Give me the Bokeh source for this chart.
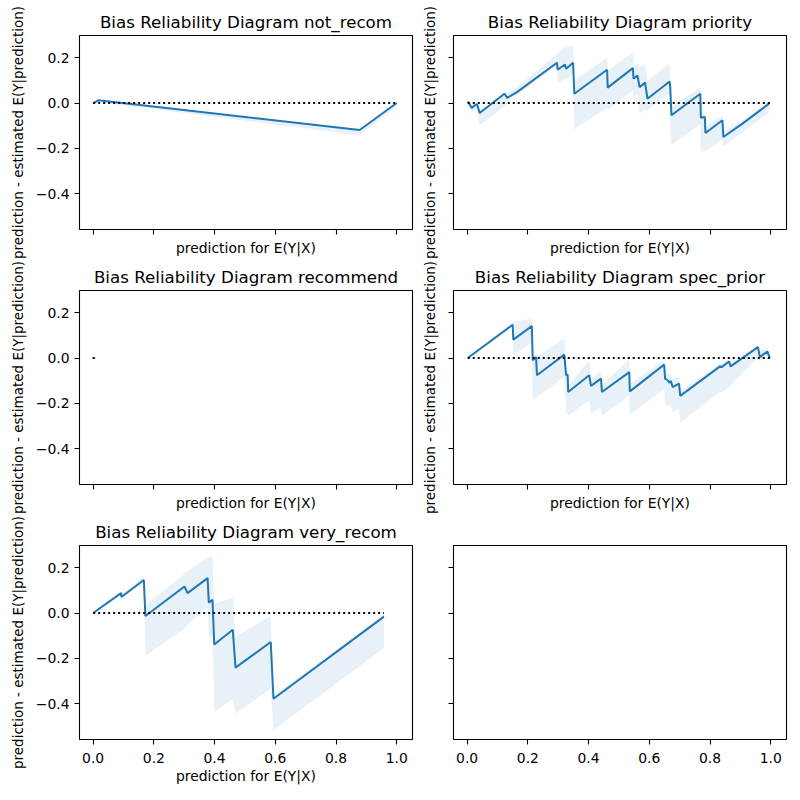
from bokeh.plotting import figure
from bokeh.models import Range1d, FixedTicker
from bokeh.layouts import column, row
from bokeh.embed import file_html
from bokeh.resources import INLINE

FONT = "DejaVu Sans"
BLUE = "#1f77b4"

# ---------------- data ----------------
not_recom_x = [0.0, 0.017, 0.878, 1.0]
not_recom_y = [0.0, 0.012, -0.119, 0.0]
not_recom_lo = [0.0, 0.004, -0.142, -0.015]
not_recom_hi = [0.0, 0.014, -0.117, 0.0]

priority_x = [0.002, 0.010, 0.015, 0.026, 0.033, 0.041, 0.123, 0.132, 0.164, 0.296,
              0.298, 0.322, 0.326, 0.349, 0.353, 0.461, 0.463, 0.546, 0.548, 0.561,
              0.568, 0.586, 0.594, 0.667, 0.669, 0.673, 0.768, 0.770, 0.783, 0.785,
              0.841, 0.844, 0.907, 0.997]
priority_y = [0.007, -0.010, -0.022, -0.009, -0.006, -0.044, 0.041, 0.023, 0.048, 0.178,
              0.147, 0.170, 0.151, 0.178, 0.041, 0.147, 0.068, 0.154, 0.107, 0.122,
              0.070, 0.090, 0.019, 0.095, 0.070, -0.054, 0.041, -0.065, -0.062, -0.132,
              -0.076, -0.150, -0.091, 0.000]
priority_lo = [0.004, -0.025, -0.040, -0.032, -0.029, -0.098, -0.015, 0.009, 0.034, 0.166,
               0.085, 0.107, 0.100, 0.129, -0.117, -0.021, -0.032, 0.056, 0.026, 0.041,
               -0.047, -0.029, -0.032, 0.041, -0.091, -0.186, -0.091, -0.216, -0.211, -0.216,
               -0.157, -0.194, -0.128, -0.040]
priority_hi = [0.010, -0.003, -0.015, 0.000, 0.003, -0.037, 0.048, 0.041, 0.070, 0.217,
               0.217, 0.247, 0.247, 0.254, 0.100, 0.200, 0.144, 0.225, 0.159, 0.173,
               0.159, 0.173, 0.100, 0.176, 0.100, -0.018, 0.070, -0.047, -0.047, -0.106,
               -0.054, -0.128, -0.076, 0.009]

recommend_x = [0.0, 0.004]
recommend_y = [0.0, 0.0]
recommend_lo = [0.0, 0.0]
recommend_hi = [0.0, 0.0]

spec_prior_x = [0.002, 0.150, 0.152, 0.213, 0.216, 0.227, 0.230, 0.320, 0.326, 0.331,
                0.333, 0.402, 0.408, 0.441, 0.444, 0.534, 0.536, 0.649, 0.652, 0.660,
                0.666, 0.671, 0.677, 0.698, 0.702, 0.833, 0.838, 0.863, 0.868, 0.958,
                0.964, 0.989, 0.997]
spec_prior_y = [0.000, 0.147, 0.081, 0.141, -0.010, 0.004, -0.076, 0.015, -0.076, -0.073,
                -0.150, -0.076, -0.123, -0.091, -0.150, -0.062, -0.147, -0.029, -0.091, -0.098,
                -0.109, -0.101, -0.128, -0.113, -0.167, -0.037, -0.040, -0.015, -0.037, 0.048,
                0.004, 0.029, 0.000]
spec_prior_lo = [0.000, 0.141, 0.012, 0.070, -0.184, -0.172, -0.172, -0.084, -0.245, -0.242,
                 -0.253, -0.186, -0.245, -0.216, -0.256, -0.164, -0.250, -0.135, -0.209, -0.211,
                 -0.216, -0.209, -0.238, -0.223, -0.285, -0.150, -0.153, -0.128, -0.120, 0.000,
                 -0.015, 0.012, -0.010]
spec_prior_hi = [0.000, 0.156, 0.159, 0.173, -0.006, 0.019, 0.004, 0.088, -0.062, -0.059,
                 -0.120, -0.010, -0.091, -0.059, -0.120, -0.003, -0.113, -0.010, -0.054, -0.065,
                 -0.076, -0.069, -0.094, -0.084, -0.147, -0.025, -0.028, -0.003, -0.025, 0.059,
                 0.034, 0.041, 0.009]

very_recom_x = [0.000, 0.092, 0.093, 0.167, 0.172, 0.301, 0.311, 0.377, 0.381, 0.393,
                0.399, 0.460, 0.469, 0.585, 0.594, 0.958]
very_recom_y = [0.000, 0.088, 0.071, 0.146, -0.013, 0.117, 0.088, 0.154, 0.046, 0.059,
                -0.139, -0.074, -0.241, -0.128, -0.378, -0.016]
very_recom_lo = [0.000, 0.086, 0.068, 0.141, -0.190, -0.067, -0.052, 0.028, -0.114, -0.103,
                 -0.436, -0.378, -0.443, -0.335, -0.516, -0.154]
very_recom_hi = [0.000, 0.093, 0.083, 0.161, 0.035, 0.172, 0.184, 0.245, 0.248, 0.248,
                 0.042, 0.068, -0.103, -0.013, -0.364, -0.004]

zero_level = [0.0, 0.0]

x_ticks = [0.0, 0.2, 0.4, 0.6, 0.8, 1.0]
x_tick_labels = ["0.0", "0.2", "0.4", "0.6", "0.8", "1.0"]
y_ticks = [-0.4, -0.2, 0.0, 0.2]
y_tick_labels = ["\u22120.4", "\u22120.2", "0.0", "0.2"]

title_prefix = "Bias Reliability Diagram "
x_label = "prediction for E(Y|X)"
y_label = "prediction - estimated E(Y|prediction)"

panels = [
    ("not_recom", not_recom_x, not_recom_y, not_recom_lo, not_recom_hi),
    ("priority", priority_x, priority_y, priority_lo, priority_hi),
    ("recommend", recommend_x, recommend_y, recommend_lo, recommend_hi),
    ("spec_prior", spec_prior_x, spec_prior_y, spec_prior_lo, spec_prior_hi),
    ("very_recom", very_recom_x, very_recom_y, very_recom_lo, very_recom_hi),
    None,
]

FRAME_W = 333
FRAME_H = 194
TOP_BORDER = [35, 31, 30]
BOTTOM_BORDER = [30, 31, 46]
LEFT_BORDER = [79, 35]


def style_axis(ax, labelled, ticks, labels):
    ax.axis_line_color = None
    ax.major_tick_in = 0
    ax.major_tick_out = 5
    ax.minor_tick_in = 0
    ax.minor_tick_out = 5
    ax.major_tick_line_color = "black"
    ax.major_tick_line_width = 1.1
    ax.minor_tick_line_color = "black"
    ax.minor_tick_line_width = 1.1
    ax.major_label_text_font = FONT
    ax.major_label_text_font_size = "13.9px"
    ax.major_label_text_color = "black"
    ax.major_label_standoff = 5
    ax.axis_label_text_font = FONT
    ax.axis_label_text_font_style = "normal"
    ax.axis_label_text_color = "black"
    if labelled:
        ax.ticker = FixedTicker(ticks=ticks, minor_ticks=[])
        ax.major_label_overrides = {t: s for t, s in zip(ticks, labels)}
    else:
        # ticks without labels (shared axis)
        ax.ticker = FixedTicker(ticks=[], minor_ticks=ticks)


def make_panel(idx, spec):
    col = idx % 2
    r = idx // 2
    p = figure(
        frame_width=FRAME_W, frame_height=FRAME_H,
        x_range=Range1d(-0.045, 1.052), y_range=Range1d(-0.558, 0.298),
        min_border_left=LEFT_BORDER[col],
        min_border_right=6,
        min_border_top=TOP_BORDER[r],
        min_border_bottom=BOTTOM_BORDER[r],
        toolbar_location=None, output_backend="svg",
        title=(title_prefix + spec[0]) if spec else None,
    )
    p.background_fill_color = "white"
    p.border_fill_color = "white"
    p.outline_line_color = "black"
    p.outline_line_width = 1.1
    p.outline_line_alpha = 1
    p.grid.visible = False

    if spec:
        p.title.text_font = FONT
        p.title.text_font_size = "16.7px"
        p.title.text_font_style = "normal"
        p.title.text_color = "black"
        p.title.align = "center"
        p.title.standoff = 8

    xa = p.xaxis[0]
    ya = p.yaxis[0]
    show_xtl = (r == 2)
    show_ytl = (col == 0)
    style_axis(xa, show_xtl, x_ticks, x_tick_labels)
    style_axis(ya, show_ytl, y_ticks, y_tick_labels)
    xa.axis_label_text_font_size = "13.9px"
    ya.axis_label_text_font_size = "13.5px"
    if show_xtl:
        xa.major_label_standoff = 8
    if spec:
        xa.axis_label = x_label
        xa.axis_label_standoff = 2 if show_xtl else 5
        ya.axis_label = y_label
        ya.axis_label_standoff = 7 if show_ytl else 11

    if spec:
        name, xs, ys, lo, hi = spec
        p.varea(x=xs, y1=lo, y2=hi, fill_color=BLUE, fill_alpha=0.1)
        p.line(xs, ys, line_color=BLUE, line_width=2,
               line_cap="round" if len(xs) < 3 else "butt")
        p.line([xs[0], xs[-1]], zero_level, line_color="black", line_width=2, line_dash="2 3")
    return p


figs = [make_panel(i, s) for i, s in enumerate(panels)]
layout = column(row(figs[0], figs[1]), row(figs[2], figs[3]), row(figs[4], figs[5]))

open("out.html", "w").write(file_html(layout, INLINE))
